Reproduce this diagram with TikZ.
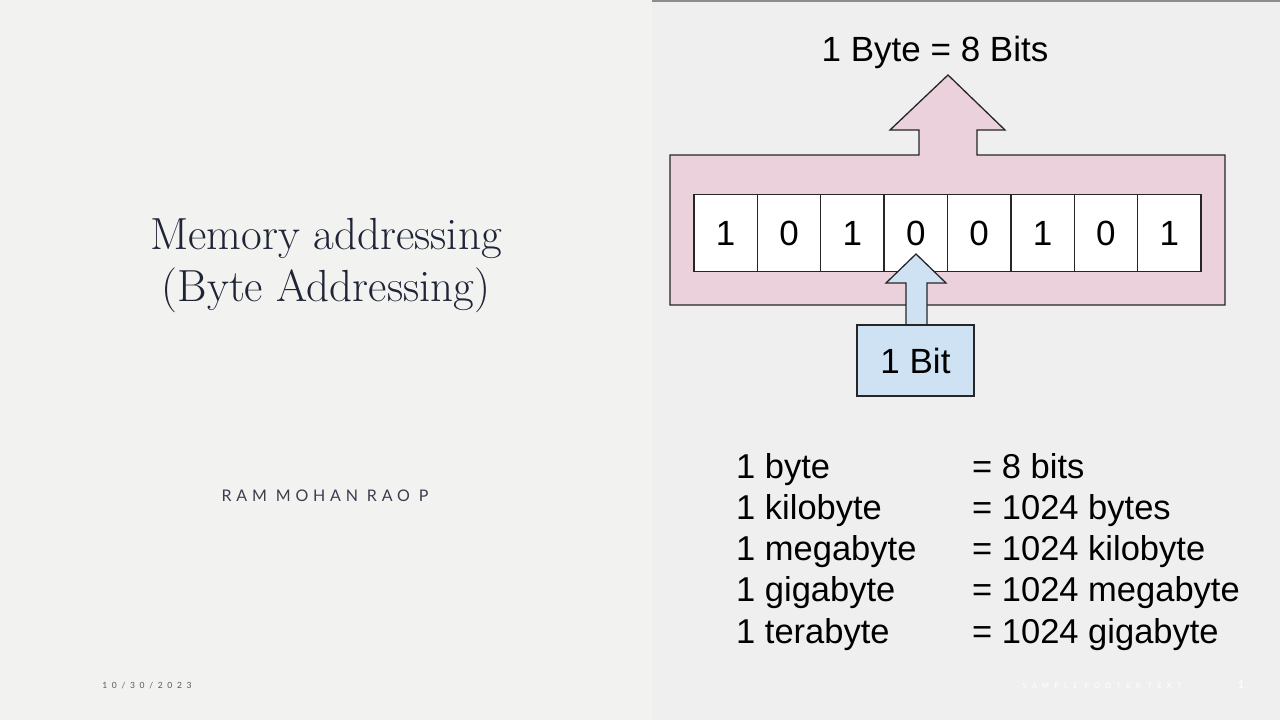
\documentclass[tikz,border=0pt]{standalone}
\usepackage{fontspec}
\setsansfont{Liberation Sans}
\newfontfamily\authorfont[LetterSpace=30]{Lato}
\newfontfamily\datefont[LetterSpace=55]{Lato}
\newfontfamily\footerfont[LetterSpace=70]{Lato}
\usetikzlibrary{positioning, calc}
\definecolor{slidebg}{HTML}{F2F3F1}
\definecolor{panelbg}{HTML}{EFEFEF}
\definecolor{bytepink}{HTML}{EAD1DC}
\definecolor{bitblue}{HTML}{CFE2F3}
\definecolor{titlenavy}{HTML}{1F2436}
\definecolor{authorgray}{HTML}{3A3D4E}
\definecolor{rulegray}{HTML}{8C8C8C}

\begin{document}
\begin{tikzpicture}[
  x=1pt, y=-1pt,
  outline/.style={draw=black!85, line width=1.3pt, line join=miter},
  cell/.style={outline, fill=white, minimum width=63.4pt, minimum height=77pt, inner sep=0pt, font=\sffamily\fontsize{35}{35}\selectfont},
  bigtext/.style={font=\sffamily\fontsize{35}{35}\selectfont, inner sep=0pt},
  listtext/.style={font=\sffamily\fontsize{34.5}{34.5}\selectfont, anchor=base west, inner sep=0pt},
]

  % Background
  \useasboundingbox (0,0) rectangle (1280,720);
  \fill[slidebg] (0,0) rectangle (652,720);
  \fill[panelbg] (652,0) rectangle (1280,720);
  \draw[rulegray, line width=2pt] (652,1) -- (1280,1);

  % Title side
  \node[font=\rmfamily\fontsize{45}{52}\selectfont, text=titlenavy, align=center] (title) at (326,266) {Memory addressing\\(Byte Addressing)};
  \node[font=\authorfont\fontsize{16}{16}\selectfont, text=authorgray] (author) at (325,496) {RAM MOHAN RAO P};
  \node[font=\datefont\fontsize{8.5}{8.5}\selectfont, text=black!65] (date) at (147,686) {10/30/2023};
  \node[font=\footerfont\fontsize{7.5}{7.5}\selectfont, text=white] (footer) at (1102,686) {SAMPLE FOOTER TEXT};
  \node[font=\datefont\fontsize{11}{11}\selectfont, text=white] (pagenum) at (1241,685) {1};

  % Byte frame with arrow
  \draw[outline, fill=bytepink] (670,155) -- (919,155) -- (919,130) -- (890,130) -- (948,75)
    -- (1005,130) -- (977,130) -- (977,155) -- (1225,155) -- (1225,305) -- (670,305) -- cycle;
  \node[bigtext] (bytelabel) at (935,52) {1 Byte = 8 Bits};

  % Bit cells
  \foreach \b [count=\i] in {1,0,1,0,0,1,0,1}
    \node[cell] (cell\i) at ({694+63.375*(\i-0.5)},233) {\b};

  % Bit pointer
  \draw[outline, fill=bitblue] (906,325) -- (906,283) -- (886,283) -- (916,254) -- (946,283)
    -- (927,283) -- (927,325);
  \node[outline, fill=bitblue, minimum width=117pt, minimum height=71pt, bigtext] (bitbox) at (915.5,360.5) {1 Bit};

  % Unit table
  \foreach \unit/\val [count=\i] in {byte/8 bits, kilobyte/1024 bytes, megabyte/1024 kilobyte, gigabyte/1024 megabyte, terabyte/1024 gigabyte}{
    \node[listtext] (unit\i) at (736,{478+41.25*(\i-1)}) {1 \unit};
    \node[listtext] (val\i) at (972,{478+41.25*(\i-1)}) {= \val};
  }

\end{tikzpicture}
\end{document}
